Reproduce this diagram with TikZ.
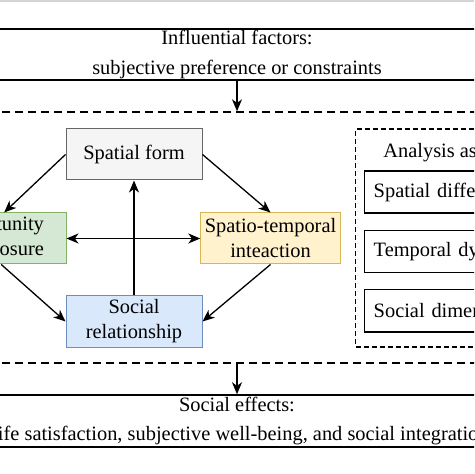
\documentclass[tikz,border=0pt]{standalone}
\usepackage{fontspec}
\setmainfont{Liberation Serif}
\usepackage{tikz}
\usetikzlibrary{arrows.meta,positioning,calc}
\definecolor{formfill}{HTML}{F5F5F5}
\definecolor{formline}{HTML}{666666}
\definecolor{oppfill}{HTML}{D5E8D4}
\definecolor{oppline}{HTML}{82B366}
\definecolor{stfill}{HTML}{FFF2CC}
\definecolor{stline}{HTML}{D6B656}
\definecolor{socfill}{HTML}{DAE8FC}
\definecolor{socline}{HTML}{6C8EBF}
\newcommand{\lnk}{-{Stealth[length=6pt,width=5pt,inset=1.8pt]}}

\begin{document}
\begin{tikzpicture}[x=0.5pt,y=-0.5pt,
    font=\fontsize{10.2}{12.5}\selectfont,
    box/.style={draw,line width=0.5pt,minimum width=68pt,minimum height=25.5pt,align=center,inner sep=2pt},
    band/.style={draw,line width=0.75pt,minimum width=300pt,align=center,inner sep=0pt},
    aspect/.style={draw,line width=0.7pt,text width=90pt,inner xsep=4.5pt,minimum height=21pt,align=left},
    link/.style={\lnk,line width=0.65pt}]
  \useasboundingbox (0,0) rectangle (474,474);
  \clip (0,0) rectangle (474,474);
  \fill[black!17] (0,0) rectangle (474,2.5);

  % top and bottom bands
  \node (factors) [band,minimum height=25.5pt] at (237,54.5)
    {Influential factors:\\[2.5pt] subjective preference or constraints};
  \node (effects) [band,minimum height=26pt] at (237,421)
    {Social effects:\\[2pt] Life satisfaction, subjective well-being, and social integration};
  \node (core) [draw,dashed,dash pattern=on 4pt off 2.5pt,line width=0.7pt,
    minimum width=300pt,minimum height=125.5pt] at (237,237.5) {};
  \draw[link] (factors.south) -- (core.north);
  \draw[link] (core.south) -- (effects.north);

  % four components
  \node (form) [box,fill=formfill,draw=formline] at (134,154.5) {Spatial form};
  \node (opp) [box,fill=oppfill,draw=oppline,minimum width=72pt,align=right] at (-6,238.5)
    {Opportunity\\exposure};
  \node (st) [box,fill=stfill,draw=stline] at (270.5,238.5) {Spatio-temporal\\inteaction};
  \node (soc) [box,fill=socfill,draw=socline] at (134,321.5) {Social\\relationship};

  \draw[link] (form.west) -- ($(opp.north west)!0.57!(opp.north east)$);
  \draw[link] (form.east) -- (st.north);
  \draw[link] ($(opp.south west)!0.55!(opp.south east)$) -- (soc.west);
  \draw[link] (st.south) -- (soc.east);
  \draw[link] (soc.north) -- (form.south);
  \draw[{Stealth[length=6pt,width=5pt,inset=1.8pt]}-{Stealth[length=6pt,width=5pt,inset=1.8pt]},line width=0.65pt]
    (opp.east) -- (st.west);

  % analysis aspects
  \node (aspects) [draw,dashed,dash pattern=on 2.5pt off 1.5pt,line width=0.6pt,
    anchor=west,minimum width=125pt,minimum height=109pt] at (355,238) {};
  \node (title) [anchor=west,inner sep=0pt] at (383,153) {Analysis aspects};
  \node (sdiff) [aspect,anchor=west] at (364,192) {Spatial differentiation};
  \node (tdyn) [aspect,below=8pt of sdiff.south west,anchor=north west] {Temporal dynamics};
  \node (sdim) [aspect,below=8pt of tdyn.south west,anchor=north west] {Social dimension};
\end{tikzpicture}
\end{document}
